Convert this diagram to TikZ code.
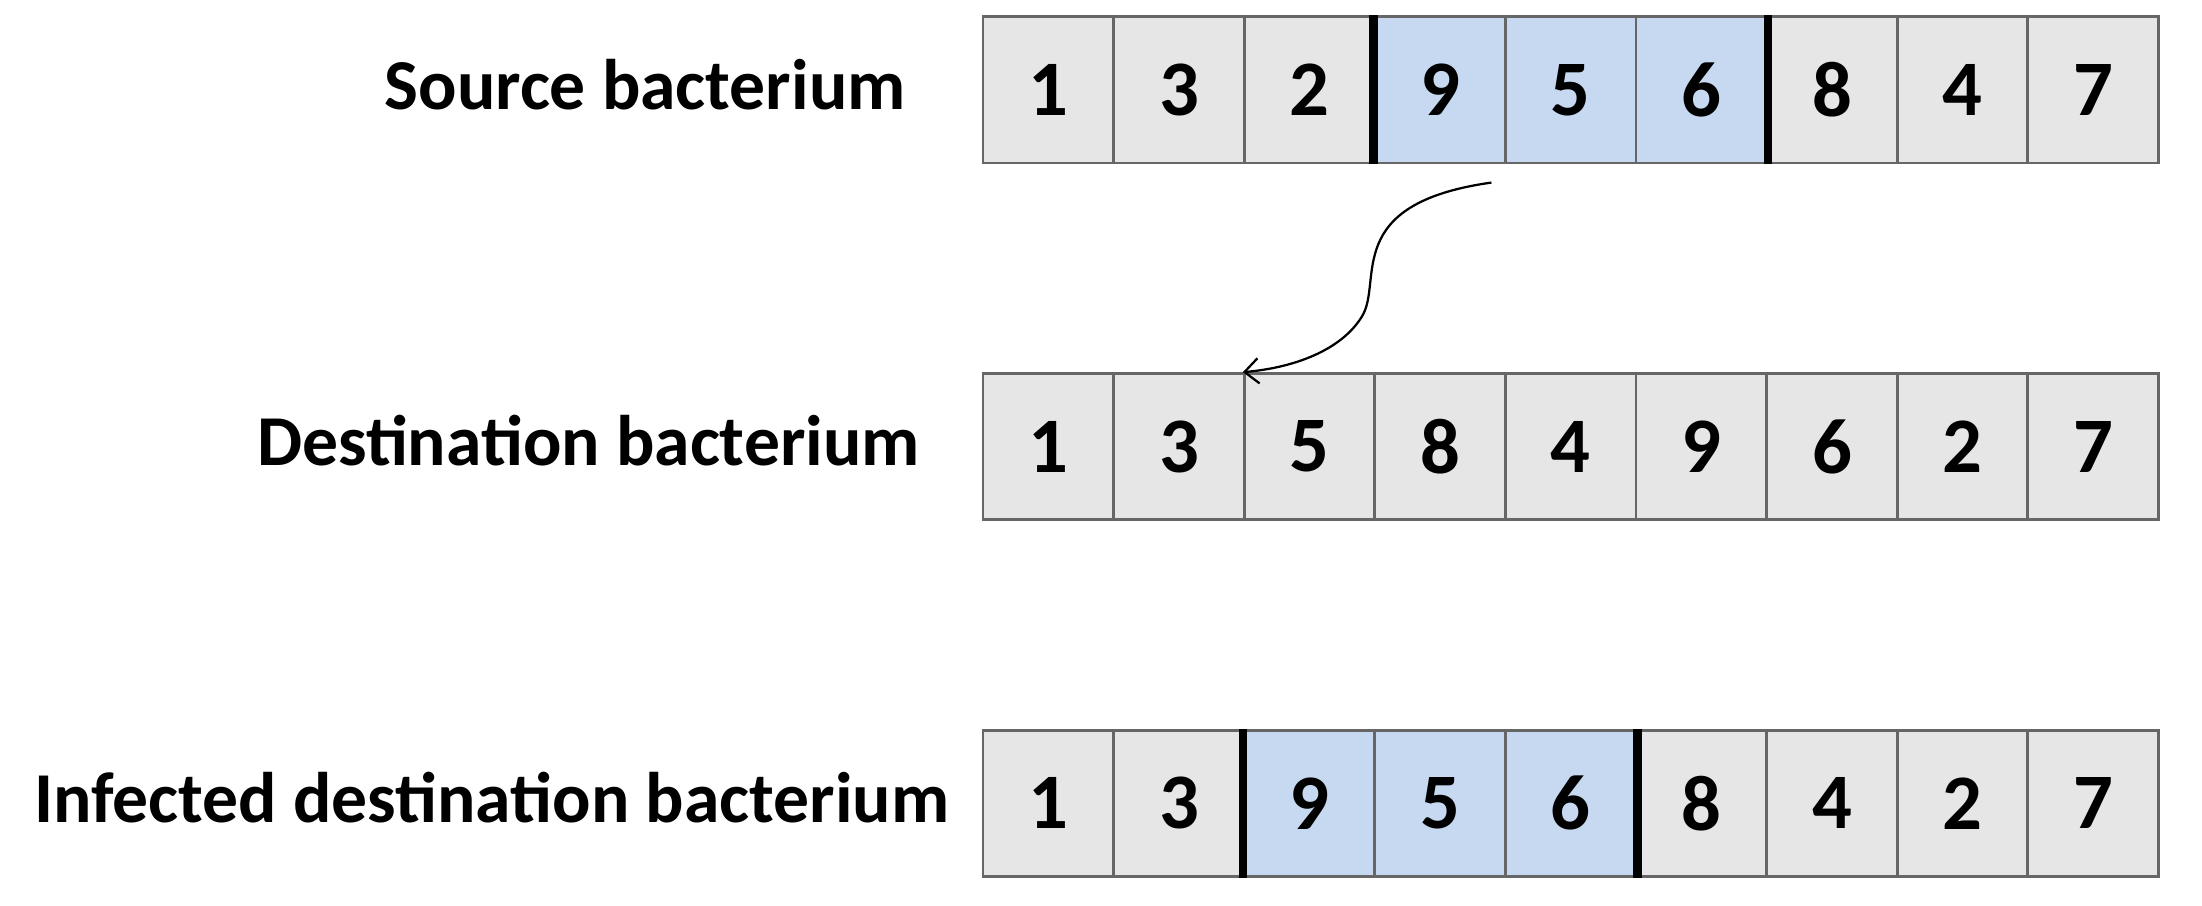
\documentclass[tikz,border=0pt]{standalone}
\usepackage{fontspec}
\setmainfont{Carlito}
\usetikzlibrary{arrows.meta}
\definecolor{cellgray}{HTML}{E6E6E6}
\definecolor{cellblue}{HTML}{C6D9F0}
\begin{document}
\begin{tikzpicture}[x=0.5pt,y=-0.5pt,
  cell/.style={draw=black!60,line width=1pt,fill=cellgray,minimum width=46.5pt,minimum height=52pt,inner sep=0,font=\bfseries\fontsize{28}{30}\selectfont},
  hcell/.style={cell,fill=cellblue},
  lbl/.style={anchor=east,font=\bfseries\fontsize{25.5}{27}\selectfont},
  bar/.style={line width=3pt}]
\useasboundingbox (0,0) rectangle (1568,645);
\foreach \v/\st [count=\k] in {1/cell,3/cell,2/cell,9/hcell,5/hcell,6/hcell,8/cell,4/cell,7/cell}
  \node[\st] (a\k) at ({700+93*(\k-0.5)},64) {\v};
\foreach \v/\st [count=\k] in {1/cell,3/cell,5/cell,8/cell,4/cell,9/cell,6/cell,2/cell,7/cell}
  \node[\st] (b\k) at ({700+93*(\k-0.5)},318) {\v};
\foreach \v/\st [count=\k] in {1/cell,3/cell,9/hcell,5/hcell,6/hcell,8/cell,4/cell,2/cell,7/cell}
  \node[\st] (c\k) at ({700+93*(\k-0.5)},572) {\v};
\draw[bar] (a4.north west) -- (a4.south west);
\draw[bar] (a6.north east) -- (a6.south east);
\draw[bar] (c3.north west) -- (c3.south west);
\draw[bar] (c5.north east) -- (c5.south east);
\node[lbl] (la) at (652,60) {Source bacterium};
\node[lbl] (lb) at (662,314) {Destination bacterium};
\node[lbl] (lc) at (683,568) {Infected destination bacterium};
\coordinate (s) at (1062,130);
\draw[-{Straight Barb[length=5pt,width=9pt]},line width=0.8pt] (s) .. controls (955,145) and (985,200) .. (970,225) .. controls (955,250) and (920,262) .. (b3.north west);
\end{tikzpicture}
\end{document}
